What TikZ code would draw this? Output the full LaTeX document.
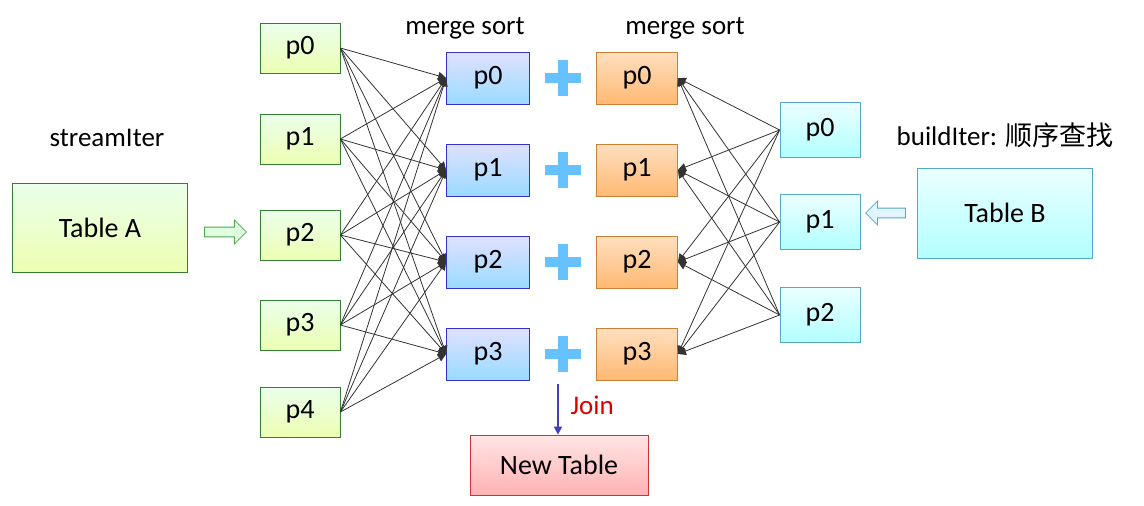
\documentclass[tikz,border=0pt]{standalone}
\usepackage{fontspec}
\setmainfont{Carlito}
\newfontfamily\cjk{Noto Sans CJK SC}
\usetikzlibrary{arrows.meta,shapes.arrows}
\begin{document}
\begin{tikzpicture}[x=1pt,y=-1pt,
 box/.style={draw=#1!60!gray,line width=0.8pt,minimum width=80pt,minimum height=50pt,font=\fontsize{28}{30}\selectfont,inner sep=0pt},
 gbox/.style={box=green!50!black,top color=green!8,bottom color=green!25!yellow!30},
 bbox/.style={box=blue,top color=blue!12,bottom color=blue!35!cyan!40,minimum width=83pt,minimum height=52pt},
 obox/.style={box=orange,top color=orange!25,bottom color=orange!55,minimum width=81pt,minimum height=52pt},
 cbox/.style={box=cyan,top color=cyan!8,bottom color=cyan!30,minimum height=55pt},
 wire/.style={line width=0.8pt,black!80,-{Triangle[length=8pt,width=8pt]}},
 lbl/.style={font=\fontsize{27}{30}\selectfont}]
\useasboundingbox (0,0) rectangle (1144,506);
\node[gbox,minimum width=175pt,minimum height=89pt] (A) at (100,228) {Table A};
\node[cbox,minimum width=175pt,minimum height=90pt] (B) at (1005,213) {Table B};
\foreach \i/\y in {0/48,1/139,2/235,3/325,4/412} \node[gbox] (L\i) at (300,\y) {p\i};
\foreach \i/\y in {0/78,1/170,2/262,3/354} {
  \node[bbox] (M\i) at (488,\y) {p\i};
  \node[obox] (O\i) at (637,\y) {p\i};
  \fill[blue!40!cyan!60] (563,\y) ++(-18,-5) rectangle ++(36,10);
  \fill[blue!40!cyan!60] (563,\y) ++(-5,-18) rectangle ++(10,36);
}
\foreach \i/\y in {0/130,1/222,2/315} \node[cbox] (C\i) at (820,\y) {p\i};
\foreach \i in {0,...,4} \foreach \j in {0,...,3} \draw[wire] (L\i.east) -- (M\j.west);
\foreach \i in {0,...,2} \foreach \j in {0,...,3} \draw[wire] (C\i.west) -- (O\j.east);
\node[lbl] (ms1) at (465,28) {merge sort};
\node[lbl] (ms2) at (685,28) {merge sort};
\node[lbl] (si) at (107,138) {streamIter};
\node[lbl] (bi) at (1005,135) {buildIter: {\cjk 顺序查找}};
\node[single arrow,draw=green!50!black!70,fill=green!12,line width=0.8pt,minimum height=42pt,minimum width=24pt,single arrow head extend=5pt,inner sep=3pt] (ar1) at (223,232) {};
\node[single arrow,shape border rotate=180,draw=cyan!60!gray,fill=cyan!12,line width=0.8pt,minimum height=40pt,minimum width=24pt,single arrow head extend=5pt,inner sep=3pt] (ar2) at (888,213) {};
\node[box=red,top color=red!10,bottom color=red!30,minimum width=178pt,minimum height=60pt] (N) at (559,465) {New Table};
\coordinate (js) at (558,384);
\draw[line width=2pt,blue!50!gray,-{Triangle[length=8pt,width=8pt]}] (js) -- (N.north -| js);
\node[lbl,text=red!85!black,anchor=west] (J) at (567,405) {Join};
\end{tikzpicture}
\end{document}
